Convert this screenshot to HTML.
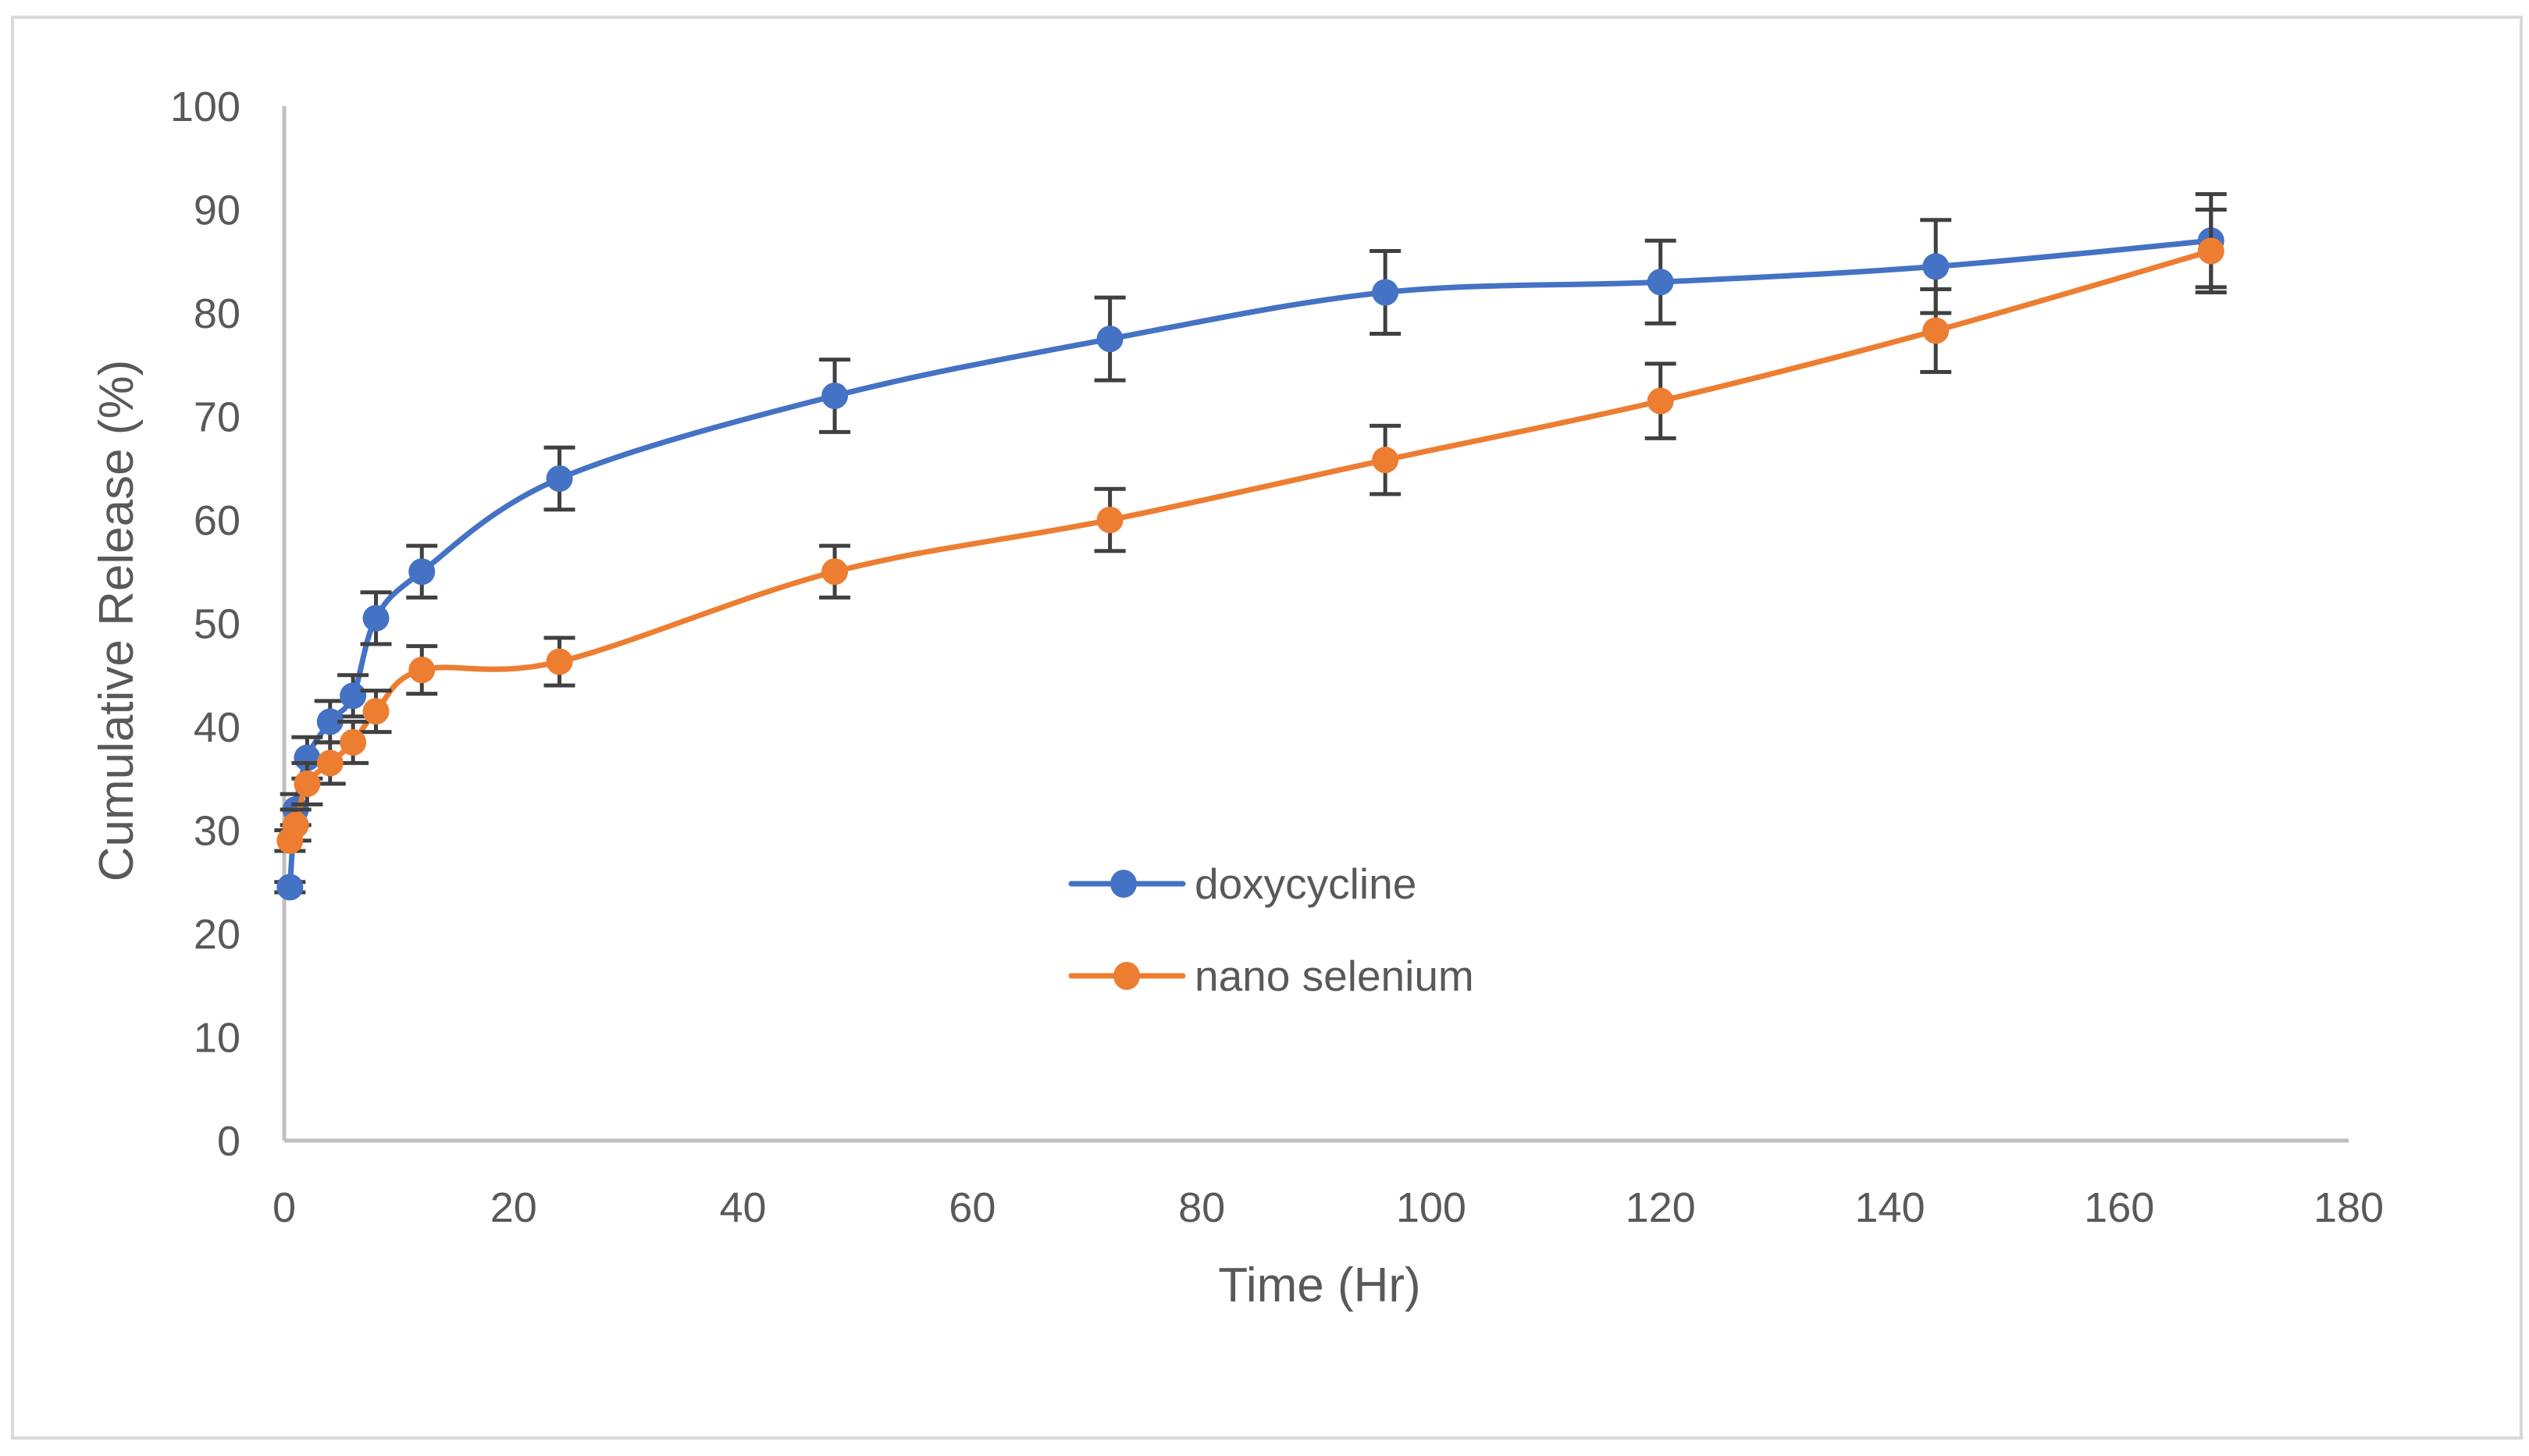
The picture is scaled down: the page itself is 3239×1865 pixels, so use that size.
<!DOCTYPE html>
<html><head><meta charset="utf-8"><style>
html,body{margin:0;padding:0;background:#fff;}
svg{display:block;}
text{font-family:"Liberation Sans",sans-serif;fill:#595959;}
</style></head><body>
<svg id="chart" width="3239" height="1865" viewBox="0 0 3239 1865" xmlns="http://www.w3.org/2000/svg">
<rect x="16" y="22" width="3213" height="1820" fill="#fff" stroke="#d9d9d9" stroke-width="4"/>
<g id="grid"></g>
<g id="series"></g>
<text x="1690" y="1667" font-size="62" text-anchor="middle">Time (Hr)</text>
<text transform="translate(170,795) rotate(-90)" font-size="62" text-anchor="middle">Cumulative  Release (%)</text>
<g>
<line x1="1372" y1="1132" x2="1515" y2="1132" stroke="#4472c4" stroke-width="7" stroke-linecap="round"/>
<ellipse cx="1439" cy="1132" rx="17" ry="18" fill="#4472c4"/>
<text x="1530" y="1151" font-size="55">doxycycline</text>
<line x1="1372" y1="1250" x2="1515" y2="1250" stroke="#ed7d31" stroke-width="7" stroke-linecap="round"/>
<ellipse cx="1443" cy="1250" rx="17" ry="18" fill="#ed7d31"/>
<text x="1530" y="1269" font-size="55">nano selenium</text>
</g>
</svg>
<script>
const times = [0.5,1,2,4,6,8,12,24,48,72,96,120,144,168];
const doxy = [24.5,32,37,40.5,43,50.5,55,64,72,77.5,82,83,84.5,87];
const doxyErr = [0.5,1.5,2,2,2,2.5,2.5,3,3.5,4,4,4,4.5,4.5];
const nano = [29,30.5,34.5,36.5,38.5,41.5,45.5,46.3,55,60,65.8,71.5,78.3,86];
const nanoErr = [1,1.5,2,2,2,2,2.3,2.3,2.5,3,3.3,3.6,4,4];
const xTicks = [0,20,40,60,80,100,120,140,160,180];
const yTicks = [0,10,20,30,40,50,60,70,80,90,100];

const NS='http://www.w3.org/2000/svg';
const X0=364,X1=3008,Y0=1461,Y1=136;
function sx(v){return X0+(v-0)/(180-0)*(X1-X0);}
function sy(v){return Y0-(v-0)/(100-0)*(Y0-Y1);}
function mk(tag,attrs,parent){const e=document.createElementNS(NS,tag);for(const k in attrs)e.setAttribute(k,attrs[k]);parent.appendChild(e);return e;}
const grid=document.getElementById('grid');
const ser=document.getElementById('series');

const ya=mk('line',{x1:X0,y1:Y1,x2:X0,y2:Y0,stroke:'#bfbfbf','stroke-width':5},grid);


const xa=mk('line',{x1:X0,y1:Y0,x2:X1,y2:Y0,stroke:'#bfbfbf','stroke-width':5},grid);


yTicks.forEach(v=>{
  const t=mk('text',{x:308,y:sy(v)+19,'font-size':54,'text-anchor':'end'},grid);
  
  
  t.textContent=v;
});
xTicks.forEach(v=>{
  const t=mk('text',{x:sx(v),y:1565,'font-size':54,'text-anchor':'middle'},grid);
  
  
  t.textContent=v;
});

function smooth(pts){
  let d='M'+pts[0][0]+','+pts[0][1];
  for(let i=0;i<pts.length-1;i++){
    const p0=pts[Math.max(0,i-1)],p1=pts[i],p2=pts[i+1],p3=pts[Math.min(pts.length-1,i+2)];
    const t=0.5/3;
    const c1=[p1[0]+(p2[0]-p0[0])*t,p1[1]+(p2[1]-p0[1])*t];
    const c2=[p2[0]-(p3[0]-p1[0])*t,p2[1]-(p3[1]-p1[1])*t];
    d+=' C'+c1[0]+','+c1[1]+' '+c2[0]+','+c2[1]+' '+p2[0]+','+p2[1];
  }
  return d;
}
function draw(vals,errs,color,name){
  const g=mk('g',{},ser);
  
  
  const pts=times.map((t,i)=>[sx(t),sy(vals[i])]);
  const p=mk('path',{d:smooth(pts),fill:'none',stroke:color,'stroke-width':7,'stroke-linejoin':'round'},g);
  
  
  times.forEach((t,i)=>{
    const x=sx(t),yh=sy(vals[i]+errs[i]),yl=sy(vals[i]-errs[i]);
    const e=mk('path',{d:`M${x},${yh}V${yl}M${x-20},${yh}H${x+20}M${x-20},${yl}H${x+20}`,stroke:'#404040','stroke-width':5,fill:'none'},g);
    
    
  });
  times.forEach((t,i)=>{
    const c=mk('circle',{cx:sx(t),cy:sy(vals[i]),r:17,fill:color},g);
    
    
  });
}
draw(doxy,doxyErr,'#4472c4','doxycycline');
draw(nano,nanoErr,'#ed7d31','nano-selenium');
</script>
</body></html>
